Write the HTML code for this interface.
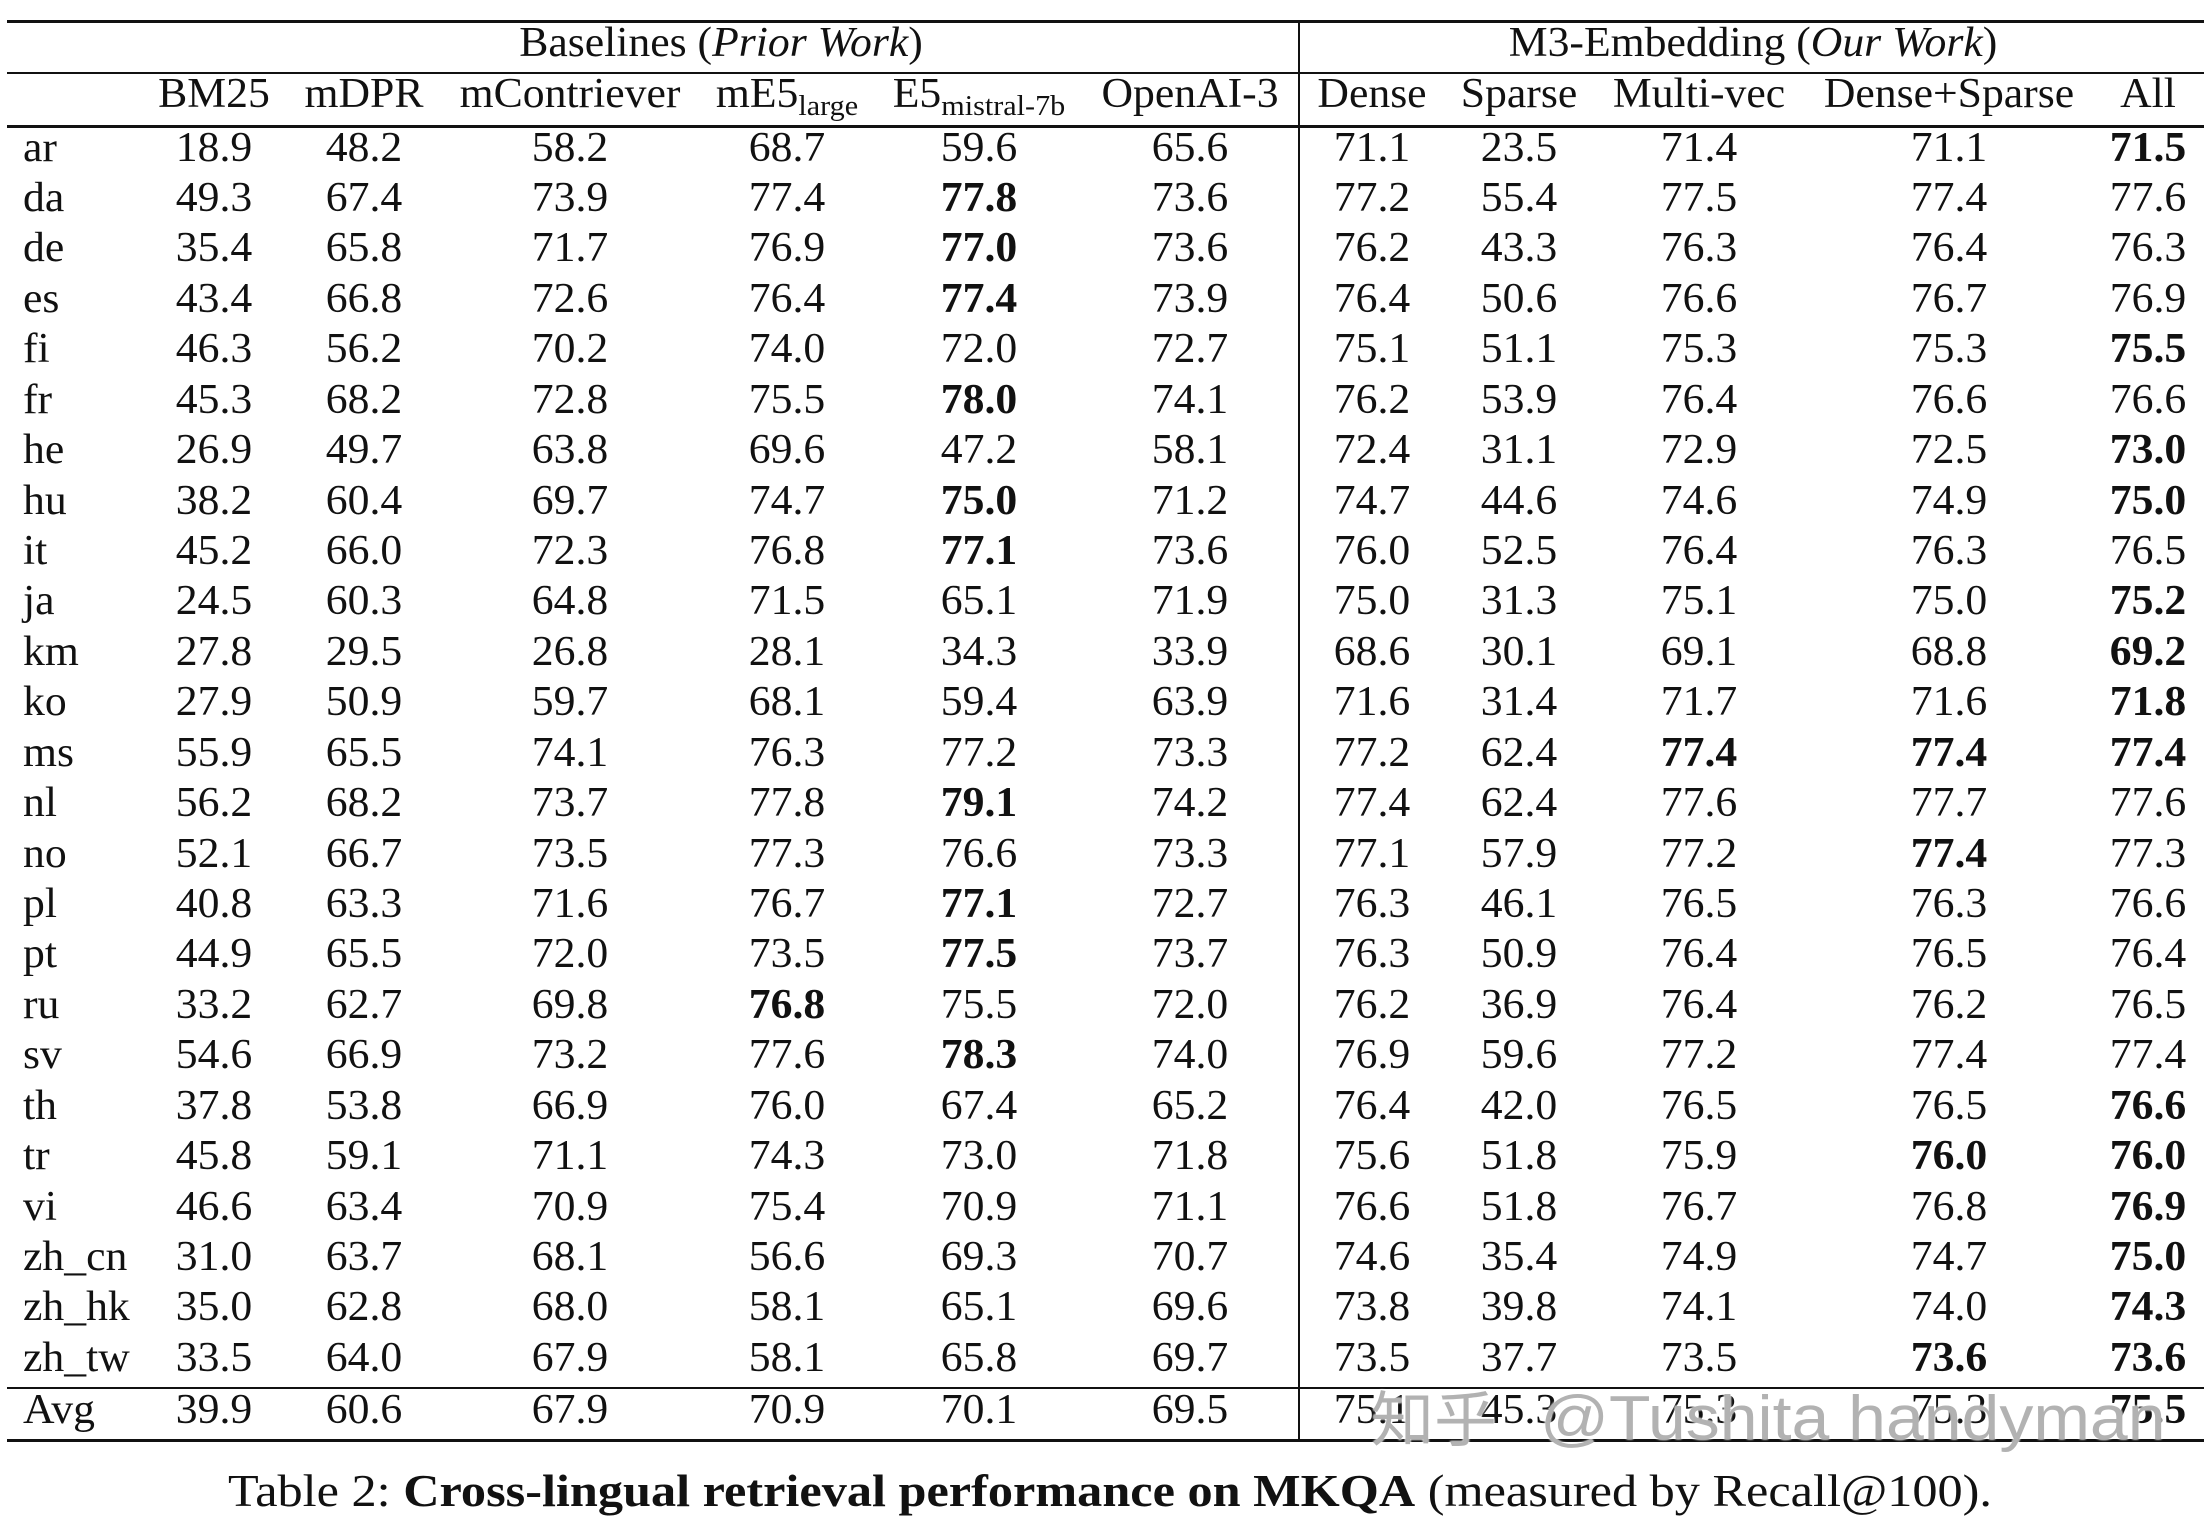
<!DOCTYPE html>
<html><head><meta charset="utf-8"><style>
html,body{margin:0;padding:0;background:#fff;}
body{width:2212px;height:1524px;position:relative;overflow:hidden;font-family:"Liberation Serif","Noto Serif CJK SC",serif;color:#111;}
.r{position:absolute;left:0;width:2212px;height:42px;}
.r div,.t{position:absolute;top:0;font-size:42px;line-height:42px;white-space:nowrap;transform:translateX(-50%) scaleX(1.04);}
.r div.l{transform:scaleX(1.04);transform-origin:0 0;left:23px;}
.k1{left:214px}.k2{left:364px}.k3{left:570px}.k4{left:787px}.k5{left:979px}.k6{left:1190px}
.k7{left:1372px}.k8{left:1519px}.k9{left:1699px}.k10{left:1949px}.k11{left:2148px}
b{font-weight:bold}
.hr{position:absolute;left:7px;width:2197px;background:#111;}
.sub{font-size:29px;position:relative;top:8px;}
.wm{position:absolute;font-family:'Liberation Sans','Noto Sans CJK SC',sans-serif;white-space:nowrap;color:rgba(165,165,165,0.85);text-shadow:0 0 2px #fff,0 0 2px #fff;transform-origin:0 0;}
</style></head><body>
<div class="hr" style="top:20px;height:3px"></div>
<div class="hr" style="top:72px;height:2px"></div>
<div class="hr" style="top:125px;height:2.5px"></div>
<div class="hr" style="top:1387px;height:2px"></div>
<div class="hr" style="top:1439px;height:3px"></div>
<div style="position:absolute;left:1298px;top:21px;width:2px;height:1420px;background:#111"></div>

<div class="r" style="top:22px"><div style="left:721px">Baselines (<i>Prior Work</i>)</div><div style="left:1753px">M3-Embedding (<i>Our Work</i>)</div></div>
<div class="r" style="top:72.5px"><div class="k1">BM25</div><div class="k2">mDPR</div><div class="k3">mContriever</div><div class="k4">mE5<span class="sub">large</span></div><div class="k5">E5<span class="sub">mistral-7b</span></div><div class="k6">OpenAI-3</div><div class="k7">Dense</div><div class="k8">Sparse</div><div class="k9">Multi-vec</div><div class="k10">Dense+Sparse</div><div class="k11">All</div></div>

<div class="r" style="top:126.5px"><div class="l">ar</div><div class="k1">18.9</div><div class="k2">48.2</div><div class="k3">58.2</div><div class="k4">68.7</div><div class="k5">59.6</div><div class="k6">65.6</div><div class="k7">71.1</div><div class="k8">23.5</div><div class="k9">71.4</div><div class="k10">71.1</div><div class="k11"><b>71.5</b></div></div>
<div class="r" style="top:176.9px"><div class="l">da</div><div class="k1">49.3</div><div class="k2">67.4</div><div class="k3">73.9</div><div class="k4">77.4</div><div class="k5"><b>77.8</b></div><div class="k6">73.6</div><div class="k7">77.2</div><div class="k8">55.4</div><div class="k9">77.5</div><div class="k10">77.4</div><div class="k11">77.6</div></div>
<div class="r" style="top:227.4px"><div class="l">de</div><div class="k1">35.4</div><div class="k2">65.8</div><div class="k3">71.7</div><div class="k4">76.9</div><div class="k5"><b>77.0</b></div><div class="k6">73.6</div><div class="k7">76.2</div><div class="k8">43.3</div><div class="k9">76.3</div><div class="k10">76.4</div><div class="k11">76.3</div></div>
<div class="r" style="top:277.8px"><div class="l">es</div><div class="k1">43.4</div><div class="k2">66.8</div><div class="k3">72.6</div><div class="k4">76.4</div><div class="k5"><b>77.4</b></div><div class="k6">73.9</div><div class="k7">76.4</div><div class="k8">50.6</div><div class="k9">76.6</div><div class="k10">76.7</div><div class="k11">76.9</div></div>
<div class="r" style="top:328.2px"><div class="l">fi</div><div class="k1">46.3</div><div class="k2">56.2</div><div class="k3">70.2</div><div class="k4">74.0</div><div class="k5">72.0</div><div class="k6">72.7</div><div class="k7">75.1</div><div class="k8">51.1</div><div class="k9">75.3</div><div class="k10">75.3</div><div class="k11"><b>75.5</b></div></div>
<div class="r" style="top:378.7px"><div class="l">fr</div><div class="k1">45.3</div><div class="k2">68.2</div><div class="k3">72.8</div><div class="k4">75.5</div><div class="k5"><b>78.0</b></div><div class="k6">74.1</div><div class="k7">76.2</div><div class="k8">53.9</div><div class="k9">76.4</div><div class="k10">76.6</div><div class="k11">76.6</div></div>
<div class="r" style="top:429.1px"><div class="l">he</div><div class="k1">26.9</div><div class="k2">49.7</div><div class="k3">63.8</div><div class="k4">69.6</div><div class="k5">47.2</div><div class="k6">58.1</div><div class="k7">72.4</div><div class="k8">31.1</div><div class="k9">72.9</div><div class="k10">72.5</div><div class="k11"><b>73.0</b></div></div>
<div class="r" style="top:479.5px"><div class="l">hu</div><div class="k1">38.2</div><div class="k2">60.4</div><div class="k3">69.7</div><div class="k4">74.7</div><div class="k5"><b>75.0</b></div><div class="k6">71.2</div><div class="k7">74.7</div><div class="k8">44.6</div><div class="k9">74.6</div><div class="k10">74.9</div><div class="k11"><b>75.0</b></div></div>
<div class="r" style="top:530px"><div class="l">it</div><div class="k1">45.2</div><div class="k2">66.0</div><div class="k3">72.3</div><div class="k4">76.8</div><div class="k5"><b>77.1</b></div><div class="k6">73.6</div><div class="k7">76.0</div><div class="k8">52.5</div><div class="k9">76.4</div><div class="k10">76.3</div><div class="k11">76.5</div></div>
<div class="r" style="top:580.4px"><div class="l">ja</div><div class="k1">24.5</div><div class="k2">60.3</div><div class="k3">64.8</div><div class="k4">71.5</div><div class="k5">65.1</div><div class="k6">71.9</div><div class="k7">75.0</div><div class="k8">31.3</div><div class="k9">75.1</div><div class="k10">75.0</div><div class="k11"><b>75.2</b></div></div>
<div class="r" style="top:630.8px"><div class="l">km</div><div class="k1">27.8</div><div class="k2">29.5</div><div class="k3">26.8</div><div class="k4">28.1</div><div class="k5">34.3</div><div class="k6">33.9</div><div class="k7">68.6</div><div class="k8">30.1</div><div class="k9">69.1</div><div class="k10">68.8</div><div class="k11"><b>69.2</b></div></div>
<div class="r" style="top:681.2px"><div class="l">ko</div><div class="k1">27.9</div><div class="k2">50.9</div><div class="k3">59.7</div><div class="k4">68.1</div><div class="k5">59.4</div><div class="k6">63.9</div><div class="k7">71.6</div><div class="k8">31.4</div><div class="k9">71.7</div><div class="k10">71.6</div><div class="k11"><b>71.8</b></div></div>
<div class="r" style="top:731.7px"><div class="l">ms</div><div class="k1">55.9</div><div class="k2">65.5</div><div class="k3">74.1</div><div class="k4">76.3</div><div class="k5">77.2</div><div class="k6">73.3</div><div class="k7">77.2</div><div class="k8">62.4</div><div class="k9"><b>77.4</b></div><div class="k10"><b>77.4</b></div><div class="k11"><b>77.4</b></div></div>
<div class="r" style="top:782.1px"><div class="l">nl</div><div class="k1">56.2</div><div class="k2">68.2</div><div class="k3">73.7</div><div class="k4">77.8</div><div class="k5"><b>79.1</b></div><div class="k6">74.2</div><div class="k7">77.4</div><div class="k8">62.4</div><div class="k9">77.6</div><div class="k10">77.7</div><div class="k11">77.6</div></div>
<div class="r" style="top:832.5px"><div class="l">no</div><div class="k1">52.1</div><div class="k2">66.7</div><div class="k3">73.5</div><div class="k4">77.3</div><div class="k5">76.6</div><div class="k6">73.3</div><div class="k7">77.1</div><div class="k8">57.9</div><div class="k9">77.2</div><div class="k10"><b>77.4</b></div><div class="k11">77.3</div></div>
<div class="r" style="top:883px"><div class="l">pl</div><div class="k1">40.8</div><div class="k2">63.3</div><div class="k3">71.6</div><div class="k4">76.7</div><div class="k5"><b>77.1</b></div><div class="k6">72.7</div><div class="k7">76.3</div><div class="k8">46.1</div><div class="k9">76.5</div><div class="k10">76.3</div><div class="k11">76.6</div></div>
<div class="r" style="top:933.4px"><div class="l">pt</div><div class="k1">44.9</div><div class="k2">65.5</div><div class="k3">72.0</div><div class="k4">73.5</div><div class="k5"><b>77.5</b></div><div class="k6">73.7</div><div class="k7">76.3</div><div class="k8">50.9</div><div class="k9">76.4</div><div class="k10">76.5</div><div class="k11">76.4</div></div>
<div class="r" style="top:983.8px"><div class="l">ru</div><div class="k1">33.2</div><div class="k2">62.7</div><div class="k3">69.8</div><div class="k4"><b>76.8</b></div><div class="k5">75.5</div><div class="k6">72.0</div><div class="k7">76.2</div><div class="k8">36.9</div><div class="k9">76.4</div><div class="k10">76.2</div><div class="k11">76.5</div></div>
<div class="r" style="top:1034.2px"><div class="l">sv</div><div class="k1">54.6</div><div class="k2">66.9</div><div class="k3">73.2</div><div class="k4">77.6</div><div class="k5"><b>78.3</b></div><div class="k6">74.0</div><div class="k7">76.9</div><div class="k8">59.6</div><div class="k9">77.2</div><div class="k10">77.4</div><div class="k11">77.4</div></div>
<div class="r" style="top:1084.7px"><div class="l">th</div><div class="k1">37.8</div><div class="k2">53.8</div><div class="k3">66.9</div><div class="k4">76.0</div><div class="k5">67.4</div><div class="k6">65.2</div><div class="k7">76.4</div><div class="k8">42.0</div><div class="k9">76.5</div><div class="k10">76.5</div><div class="k11"><b>76.6</b></div></div>
<div class="r" style="top:1135.1px"><div class="l">tr</div><div class="k1">45.8</div><div class="k2">59.1</div><div class="k3">71.1</div><div class="k4">74.3</div><div class="k5">73.0</div><div class="k6">71.8</div><div class="k7">75.6</div><div class="k8">51.8</div><div class="k9">75.9</div><div class="k10"><b>76.0</b></div><div class="k11"><b>76.0</b></div></div>
<div class="r" style="top:1185.5px"><div class="l">vi</div><div class="k1">46.6</div><div class="k2">63.4</div><div class="k3">70.9</div><div class="k4">75.4</div><div class="k5">70.9</div><div class="k6">71.1</div><div class="k7">76.6</div><div class="k8">51.8</div><div class="k9">76.7</div><div class="k10">76.8</div><div class="k11"><b>76.9</b></div></div>
<div class="r" style="top:1236px"><div class="l">zh_cn</div><div class="k1">31.0</div><div class="k2">63.7</div><div class="k3">68.1</div><div class="k4">56.6</div><div class="k5">69.3</div><div class="k6">70.7</div><div class="k7">74.6</div><div class="k8">35.4</div><div class="k9">74.9</div><div class="k10">74.7</div><div class="k11"><b>75.0</b></div></div>
<div class="r" style="top:1286.4px"><div class="l">zh_hk</div><div class="k1">35.0</div><div class="k2">62.8</div><div class="k3">68.0</div><div class="k4">58.1</div><div class="k5">65.1</div><div class="k6">69.6</div><div class="k7">73.8</div><div class="k8">39.8</div><div class="k9">74.1</div><div class="k10">74.0</div><div class="k11"><b>74.3</b></div></div>
<div class="r" style="top:1336.8px"><div class="l">zh_tw</div><div class="k1">33.5</div><div class="k2">64.0</div><div class="k3">67.9</div><div class="k4">58.1</div><div class="k5">65.8</div><div class="k6">69.7</div><div class="k7">73.5</div><div class="k8">37.7</div><div class="k9">73.5</div><div class="k10"><b>73.6</b></div><div class="k11"><b>73.6</b></div></div>
<div class="r" style="top:1389px"><div class="l">Avg</div><div class="k1">39.9</div><div class="k2">60.6</div><div class="k3">67.9</div><div class="k4">70.9</div><div class="k5">70.1</div><div class="k6">69.5</div><div class="k7">75.1</div><div class="k8">45.3</div><div class="k9">75.3</div><div class="k10">75.3</div><div class="k11"><b>75.5</b></div></div>

<div class="wm" style="left:1371px;top:1391px;font-size:60px;line-height:60px;transform:scaleX(1.05);">知乎</div>
<div class="wm" style="left:1540px;top:1388px;font-size:62px;line-height:62px;transform:scaleX(1.096);">@Tushita handyman</div>

<div class="t" style="left:1110px;top:1468px;font-size:46px;line-height:46px;transform:translateX(-50%) scaleX(1.093);">Table 2: <b>Cross-lingual retrieval performance on MKQA</b> (measured by Recall@100).</div>
</body></html>
